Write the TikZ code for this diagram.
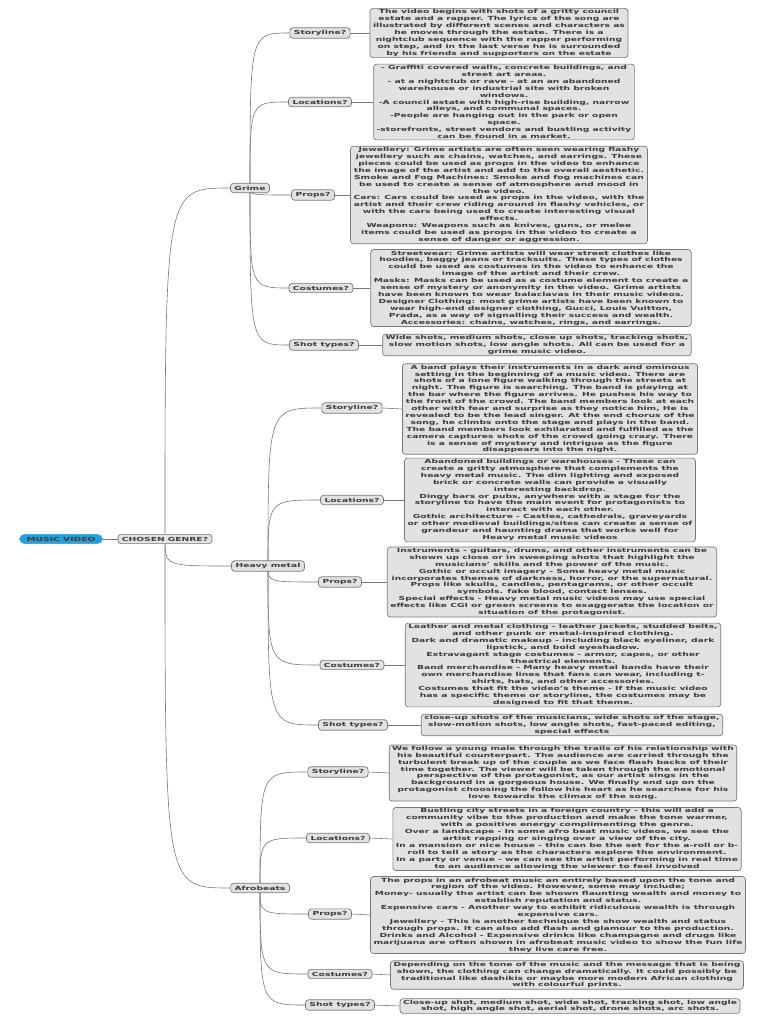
\documentclass[tikz,border=0pt]{standalone}
\usepackage{fontspec}
\setmainfont{DejaVu Sans}[FakeStretch=1.64]
\usetikzlibrary{backgrounds}
\definecolor{boxfill}{RGB}{226,226,226}
\definecolor{boxline}{RGB}{120,120,120}
\definecolor{txt}{RGB}{60,60,60}
\definecolor{blue1}{RGB}{38,160,218}
\tikzset{
 x=1pt,y=-1pt,
 base/.style={rounded corners=3pt,fill=boxfill,draw=boxline,line width=0.7pt,text=txt,font=\fontsize{5.6}{6.9}\selectfont\bfseries,align=center},
 topic/.style={base,inner xsep=4pt,inner ysep=2.5pt},
 info/.style={base,inner xsep=3pt,inner ysep=1.2pt},
 root/.style={rounded corners=5pt,fill=blue1,draw=blue1,text=txt,font=\fontsize{5.6}{7}\selectfont\bfseries,inner xsep=7pt,inner ysep=2.5pt},
 link/.style={draw=boxline,line width=0.6pt},
}
\newcommand{\curvelink}[2]{\draw[link] (#1.center) .. controls (#1.center |- #2.west) .. (#2.west);}
\newcommand{\straightlink}[2]{\draw[link] (#1.east) -- (#2.west);}
\begin{document}
\begin{tikzpicture}
\useasboundingbox (0,0) rectangle (768,1024);
\node[root] (mv) at (61,539) {MUSIC VIDEO};
\node[topic] (cg) at (165,539) {CHOSEN GENRE?};
\node[topic] (gr) at (250,188) {Grime};
\node[topic] (hm) at (268,566) {Heavy metal};
\node[topic] (af) at (260,888) {Afrobeats};
% Grime
\node[topic] (g1) at (320,33) {Storyline?};
\node[topic] (g2) at (320,102) {Locations?};
\node[topic] (g3) at (313,195) {Props?};
\node[topic] (g4) at (321,288) {Costumes?};
\node[topic] (g5) at (324,345) {Shot types?};
\node[info] (g1t) at (499,33) {The video begins with shots of a gritty council\\estate and a rapper. The lyrics of the song are\\illustrated by different scenes and characters as\\he moves through the estate. There is a\\nightclub sequence with the rapper performing\\on step, and in the last verse he is surrounded\\by his friends and supporters on the estate};
\node[info] (g2t) at (504,102) {- Graffiti covered walls, concrete buildings, and\\street art areas.\\- at a nightclub or rave - at an an abandoned\\warehouse or industrial site with broken\\windows.\\-A council estate with high-rise building, narrow\\alleys, and communal spaces.\\-People are hanging out in the park or open\\space.\\-storefronts, street vendors and bustling activity\\can be found in a market.};
\node[info] (g3t) at (499,195) {Jewellery: Grime artists are often seen wearing flashy\\jewellery such as chains, watches, and earrings. These\\pieces could be used as props in the video to enhance\\the image of the artist and add to the overall aesthetic.\\Smoke and Fog Machines: Smoke and fog machines can\\be used to create a sense of atmosphere and mood in\\the video.\\Cars: Cars could be used as props in the video, with the\\artist and their crew riding around in flashy vehicles, or\\with the cars being used to create interesting visual\\effects.\\Weapons: Weapons such as knives, guns, or melee\\items could be used as props in the video to create a\\sense of danger or aggression.};
\node[info] (g4t) at (531,288) {Streetwear: Grime artists will wear street clothes like\\hoodies, baggy jeans or tracksuits. These types of clothes\\could be used as costumes in the video to enhance the\\image of the artist and their crew.\\Masks: Masks can be used as a costume element to create a\\sense of mystery or anonymity in the video. Grime artists\\have been known to wear balaclavas in their music videos.\\Designer Clothing: most grime artists have been known to\\wear high-end designer clothing, Gucci, Louis Vuitton,\\Prada, as a way of signalling their success and wealth.\\Accessories: chains, watches, rings, and earrings.};
\node[info] (g5t) at (537,345) {Wide shots, medium shots, close up shots, tracking shots,\\slow motion shots, low angle shots. All can be used for a\\grime music video.};
% Heavy metal
\node[topic] (h1) at (352,408) {Storyline?};
\node[topic] (h2) at (352,500) {Locations?};
\node[topic] (h3) at (340,582) {Props?};
\node[topic] (h4) at (352,665) {Costumes?};
\node[topic] (h5) at (353,725) {Shot types?};
\node[info] (h1t) at (550,409) {A band plays their instruments in a dark and ominous\\setting in the beginning of a music video. There are\\shots of a lone figure walking through the streets at\\night. The figure is searching. The band is playing at\\the bar where the figure arrives. He pushes his way to\\the front of the crowd. The band members look at each\\other with fear and surprise as they notice him, He is\\revealed to be the lead singer. At the end chorus of the\\song, he climbs onto the stage and plays in the band.\\The band members look exhilarated and fulfilled as the\\camera captures shots of the crowd going crazy. There\\is a sense of mystery and intrigue as the figure\\disappears into the night.};
\node[info] (h2t) at (550,500) {Abandoned buildings or warehouses - These can\\create a gritty atmosphere that complements the\\heavy metal music. The dim lighting and exposed\\brick or concrete walls can provide a visually\\interesting backdrop.\\Dingy bars or pubs, anywhere with a stage for the\\storyline to have the main event for protagonists to\\interact with each other.\\Gothic architecture - Castles, cathedrals, graveyards\\or other medieval buildings/sites can create a sense of\\grandeur and haunting drama that works well for\\Heavy metal music videos};
\node[info] (h3t) at (552,582) {Instruments - guitars, drums, and other instruments can be\\shown up close or in sweeping shots that highlight the\\musicians' skills and the power of the music.\\Gothic or occult imagery - Some heavy metal music\\incorporates themes of darkness, horror, or the supernatural.\\Props like skulls, candles, pentagrams, or other occult\\symbols. fake blood, contact lenses.\\Special effects - Heavy metal music videos may use special\\effects like CGI or green screens to exaggerate the location or\\situation of the protagonist.};
\node[info] (h4t) at (563,665) {Leather and metal clothing - leather jackets, studded belts,\\and other punk or metal-inspired clothing.\\Dark and dramatic makeup - including black eyeliner, dark\\lipstick, and bold eyeshadow.\\Extravagant stage costumes - armor, capes, or other\\theatrical elements.\\Band merchandise - Many heavy metal bands have their\\own merchandise lines that fans can wear, including t-\\shirts, hats, and other accessories.\\Costumes that fit the video's theme - If the music video\\has a specific theme or storyline, the costumes may be\\designed to fit that theme.};
\node[info] (h5t) at (572,725) {close-up shots of the musicians, wide shots of the stage,\\slow-motion shots, low angle shots, fast-paced editing,\\special effects};
% Afrobeats
\node[topic] (a1) at (338,772) {Storyline?};
\node[topic] (a2) at (338,838) {Locations?};
\node[topic] (a3) at (330,914) {Props?};
\node[topic] (a4) at (340,974) {Costumes?};
\node[topic] (a5) at (340,1005) {Shot types?};
\node[info] (a1t) at (563,773) {We follow a young male through the trails of his relationship with\\his beautiful counterpart. The audience are carried through the\\turbulent break up of the couple as we face flash backs of their\\time together. The viewer will be taken through the emotional\\perspective of the protagonist, as our artist sings in the\\background in a gorgeous house. We finally end up on the\\protagonist choosing the follow his heart as he searches for his\\love towards the climax of the song.};
\node[info] (a2t) at (567,839) {Bustling city streets in a foreign country - this will add a\\community vibe to the production and make the tone warmer,\\with a positive energy complimenting the genre.\\Over a landscape - In some afro beat music videos, we see the\\artist rapping or singing over a view of the city.\\In a mansion or nice house - this can be the set for the a-roll or b-\\roll to tell a story as the characters explore the environment.\\In a party or venue - we can see the artist performing in real time\\to an audience allowing the viewer to feel involved};
\node[info] (a3t) at (558,915) {The props in an afrobeat music an entirely based upon the tone and\\region of the video. However, some may include;\\Money- usually the artist can be shown flaunting wealth and money to\\establish reputation and status.\\Expensive cars - Another way to exhibit ridiculous wealth is through\\expensive cars.\\Jewellery - This is another technique the show wealth and status\\through props. It can also add flash and glamour to the production.\\Drinks and Alcohol - Expensive drinks like champagne and drugs like\\marijuana are often shown in afrobeat music video to show the fun life\\they live care free.};
\node[info] (a4t) at (567,975) {Depending on the tone of the music and the message that is being\\shown, the clothing can change dramatically. It could possibly be\\traditional like dashikis or maybe more modern African clothing\\with colourful prints.};
\node[info] (a5t) at (570,1006) {Close-up shot, medium shot, wide shot, tracking shot, low angle\\shot, high angle shot, aerial shot, drone shots, arc shots.};
\begin{scope}[on background layer]
\straightlink{mv}{cg}
\curvelink{cg}{gr}\curvelink{cg}{hm}\curvelink{cg}{af}
\foreach \p/\c in {gr/g1,gr/g2,gr/g3,gr/g4,gr/g5,hm/h1,hm/h2,hm/h3,hm/h4,hm/h5,af/a1,af/a2,af/a3,af/a4,af/a5}{\curvelink{\p}{\c}}
\foreach \c in {g1,g2,g3,g4,g5,h1,h2,h3,h4,h5,a1,a2,a3,a4,a5}{\straightlink{\c}{\c t}}
\end{scope}
\end{tikzpicture}
\end{document}
